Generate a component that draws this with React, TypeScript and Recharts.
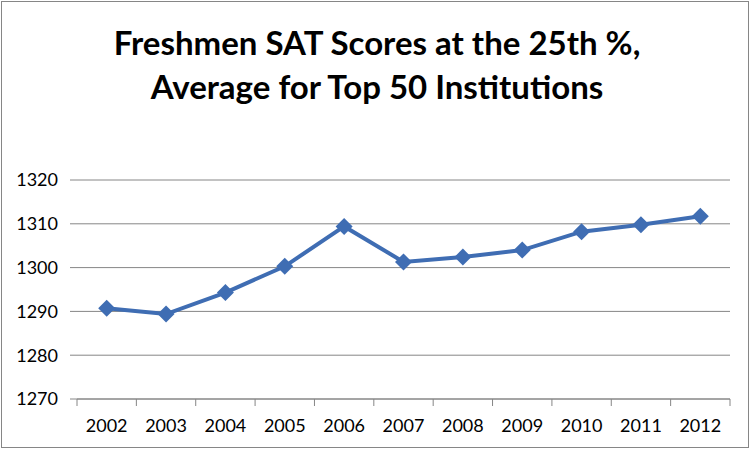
import React from 'react';
import { LineChart, Line, XAxis, YAxis, CartesianGrid } from 'recharts';

const years = ['2002', '2003', '2004', '2005', '2006', '2007', '2008', '2009', '2010', '2011', '2012'];
const satScores = [1290.7, 1289.4, 1294.3, 1300.3, 1309.4, 1301.3, 1302.4, 1304.0, 1308.2, 1309.8, 1311.7];
const yTicks = [1270, 1280, 1290, 1300, 1310, 1320];

const W = 754;
const H = 452;
const MARGIN = { top: 180, right: 24, bottom: 23, left: 0 };
const Y_AXIS_W = 77;
const PLOT_W = W - MARGIN.left - MARGIN.right - Y_AXIS_W;
const BAND = PLOT_W / years.length;

const LINE_COLOR = '#3F6DB3';
const AXIS_COLOR = '#868686';
const FONT = 'Lato, "Open Sans", sans-serif';

const data = years.map((year, i) => ({ year, score: satScores[i] }));

// Excel-style category axis: tick marks sit between the categories
function YearTick(props: any) {
  const { x, y, payload, index } = props;
  const left = x - BAND / 2;
  return (
    <g>
      <line x1={left} y1={y - 8} x2={left} y2={y - 1} stroke={AXIS_COLOR} strokeWidth={1} />
      {index === years.length - 1 && (
        <line x1={x + BAND / 2} y1={y - 8} x2={x + BAND / 2} y2={y - 1} stroke={AXIS_COLOR} strokeWidth={1} />
      )}
      <text x={x} y={y + 25} textAnchor="middle" fill="#000" fontSize={18} fontFamily={FONT}>
        {payload.value}
      </text>
    </g>
  );
}

function Diamond(props: any) {
  const { cx, cy } = props;
  if (cx == null || cy == null) return null;
  const r = 8.5;
  return (
    <path
      d={`M${cx},${cy - r} L${cx + r},${cy} L${cx},${cy + r} L${cx - r},${cy} Z`}
      fill={LINE_COLOR}
      stroke="none"
    />
  );
}

export default function App() {
  return (
    <div
      style={{
        position: 'absolute',
        left: 0,
        top: 0,
        width: W,
        height: H,
        background: '#fff',
        fontFamily: FONT,
      }}
    >
      <div
        style={{
          position: 'absolute',
          left: 1,
          top: 1,
          width: W - 6,
          height: H - 5,
          border: '1px solid #868686',
          boxSizing: 'border-box',
        }}
      />
      <div
        style={{
          position: 'absolute',
          left: 0,
          top: 20,
          width: W,
          textAlign: 'center',
          fontWeight: 700,
          fontSize: 33,
          lineHeight: '44px',
          color: '#000',
        }}
      >
        Freshmen SAT Scores at the 25th %,
        <br />
        Average for Top 50 Institutions
      </div>
      <LineChart width={W} height={H} data={data} margin={MARGIN} style={{ position: 'absolute', left: 0, top: 0 }}>
        <CartesianGrid vertical={false} stroke={AXIS_COLOR} strokeWidth={1} />
        <XAxis
          dataKey="year"
          axisLine={{ stroke: AXIS_COLOR, strokeWidth: 1 }}
          tickLine={false}
          tick={<YearTick />}
          interval={0}
          height={30}
          padding={{ left: BAND / 2, right: BAND / 2 }}
        />
        <YAxis
          domain={[1270, 1320]}
          ticks={yTicks}
          width={Y_AXIS_W}
          axisLine={false}
          tickLine={{ stroke: AXIS_COLOR, strokeWidth: 1 }}
          tickSize={7}
          tickMargin={12}
          tick={{ fill: '#000', fontSize: 18, fontFamily: FONT }}
        />
        <Line
          type="linear"
          dataKey="score"
          stroke={LINE_COLOR}
          strokeWidth={4}
          dot={<Diamond />}
          activeDot={false}
          isAnimationActive={false}
        />
      </LineChart>
    </div>
  );
}
